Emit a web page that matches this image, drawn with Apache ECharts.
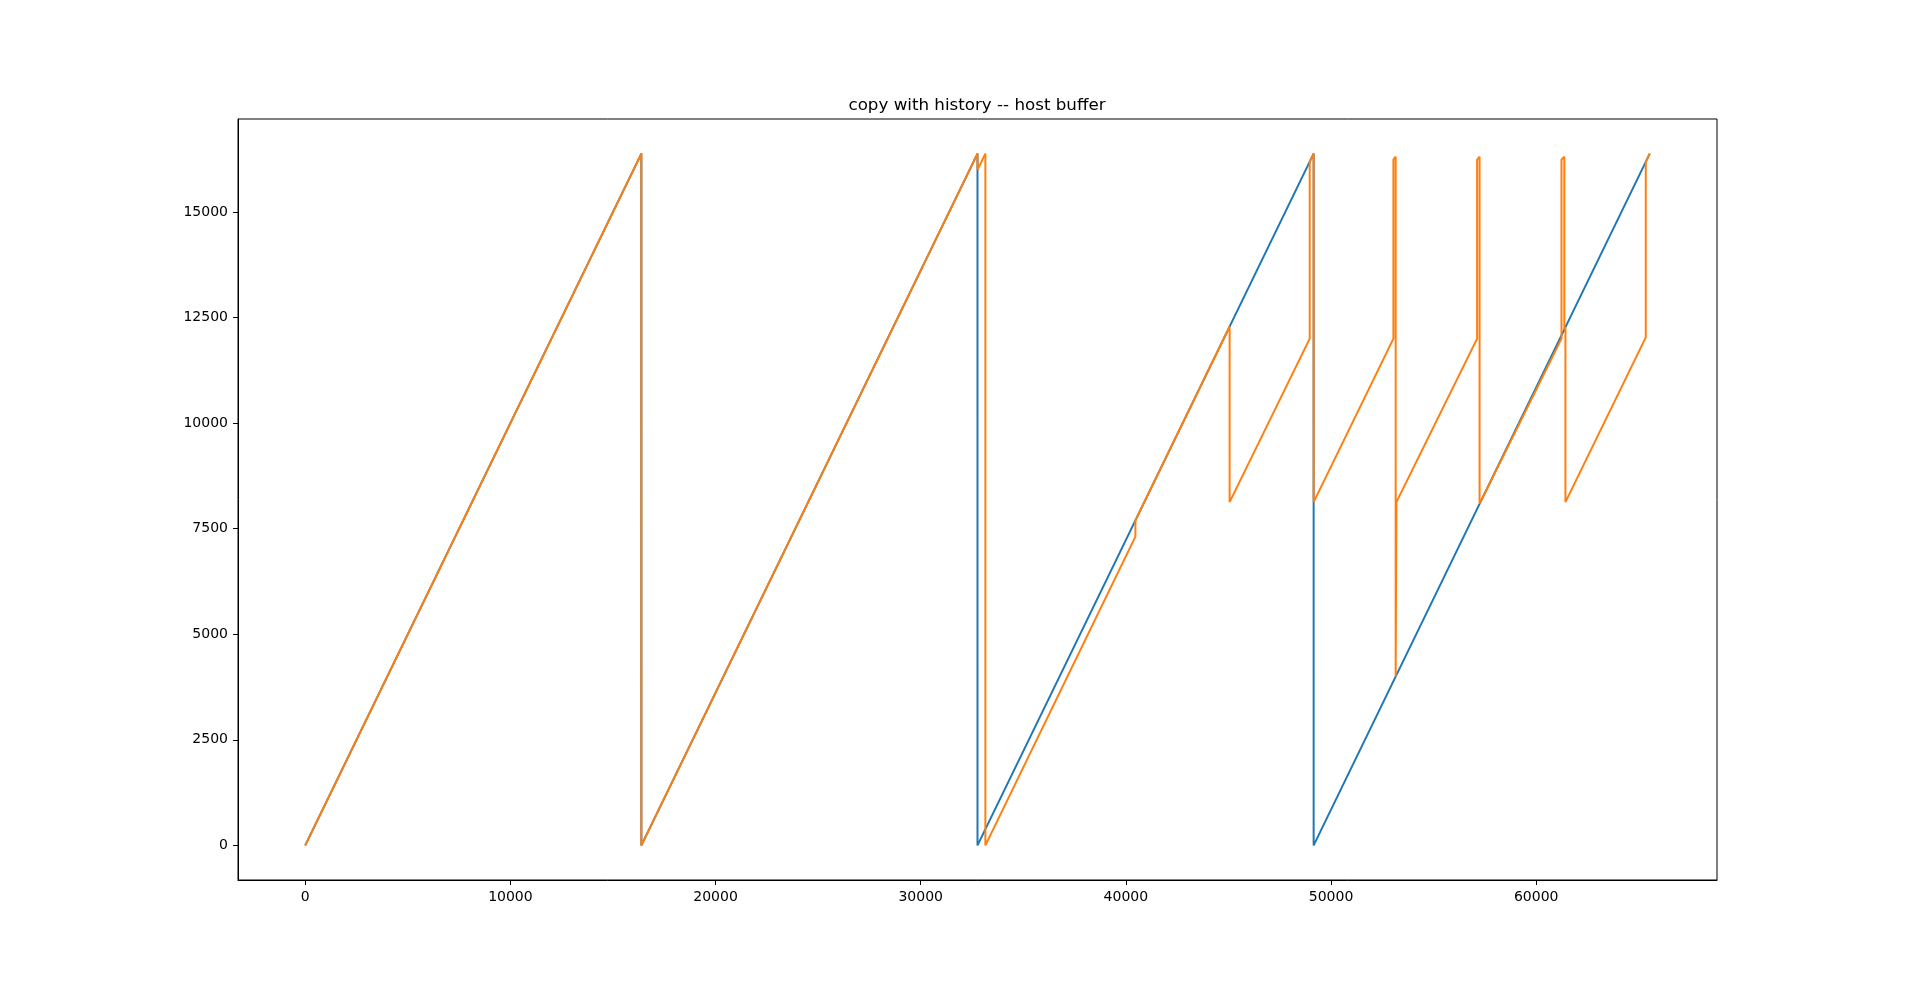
<!DOCTYPE html>
<html>
<head>
<meta charset="utf-8">
<title>copy with history -- host buffer</title>
<script src="https://cdn.jsdelivr.net/npm/echarts@6/dist/echarts.min.js"></script>
<style>
  html, body { margin: 0; padding: 0; background: #fff; }
  #main { width: 1907px; height: 989px; }
</style>
</head>
<body>
<div id="main"></div>
<script>
// tick labels
var xTicks = [0, 10000, 20000, 30000, 40000, 50000, 60000];
var yTicks = [0, 2500, 5000, 7500, 10000, 12500, 15000];

// series 1 (blue): breakpoints
var blueX = [0, 16383, 16384, 32767, 32768, 49151, 49152, 65535];
var blueY = [0, 16383, 0, 16383, 0, 16383, 0, 16383];

// series 2 (orange): breakpoints
var orangeX = [0, 16383, 16384, 32767, 32768, 33151, 33152, 40464, 40464, 45056, 45056,
  48960, 48960, 49151, 49152, 53040, 53040, 53150, 53150, 53185, 53185,
  57120, 57120, 57240, 57240, 61232, 61232, 61370, 61370, 61425, 61425,
  65340, 65340, 65535];
var orangeY = [0, 16383, 0, 16383, 16000, 16383, 0, 7312, 7696, 12288, 8130,
  12000, 16192, 16383, 8130, 12000, 16240, 16310, 3998, 4033, 8130,
  12000, 16240, 16310, 8088, 12000, 16240, 16310, 12218, 12273, 8130,
  12030, 16188, 16383];

function pairs(xs, ys) {
  var out = [];
  for (var i = 0; i < xs.length; i++) out.push([xs[i], ys[i]]);
  return out;
}

var chart = echarts.init(document.getElementById('main'));

// plain numbers, no thousands separator (matplotlib style)
var labelStyle = {
  color: '#000',
  fontSize: 14,
  fontFamily: 'DejaVu Sans',
  formatter: function (v) { return String(v); }
};

var option = {
  animation: false,
  backgroundColor: '#fff',
  title: {
    text: 'copy with history -- host buffer',
    left: 972,
    top: 92,
    textAlign: 'center',
    textStyle: {
      color: '#000',
      fontSize: 16.7,
      fontWeight: 'normal',
      fontFamily: 'DejaVu Sans'
    }
  },
  grid: {
    left: 238,
    right: 190,
    top: 119,
    bottom: 109,
    show: true,
    borderColor: '#000',
    borderWidth: 1,
    containLabel: false
  },
  xAxis: {
    type: 'value',
    min: -3277,
    max: 68812,
    splitLine: { show: false },
    axisLine: { show: true, onZero: false, lineStyle: { color: '#000', width: 1 } },
    axisTick: { show: true, length: 5, lineStyle: { color: '#000' }, customValues: xTicks },
    axisLabel: Object.assign({ margin: 10, customValues: xTicks }, labelStyle)
  },
  yAxis: {
    type: 'value',
    min: -819,
    max: 17202,
    splitLine: { show: false },
    axisLine: { show: true, onZero: false, lineStyle: { color: '#000', width: 1 } },
    axisTick: { show: true, length: 5, lineStyle: { color: '#000' }, customValues: yTicks },
    axisLabel: Object.assign({ margin: 10, customValues: yTicks }, labelStyle)
  },
  series: [
    {
      name: 'blue',
      type: 'line',
      data: pairs(blueX, blueY),
      showSymbol: false,
      symbol: 'none',
      lineStyle: { color: '#1f77b4', width: 2 },
      z: 2
    },
    {
      name: 'orange',
      type: 'line',
      data: pairs(orangeX, orangeY),
      showSymbol: false,
      symbol: 'none',
      lineStyle: { color: '#ff7f0e', width: 2 },
      z: 3
    }
  ]
};

chart.setOption(option);
</script>
</body>
</html>
